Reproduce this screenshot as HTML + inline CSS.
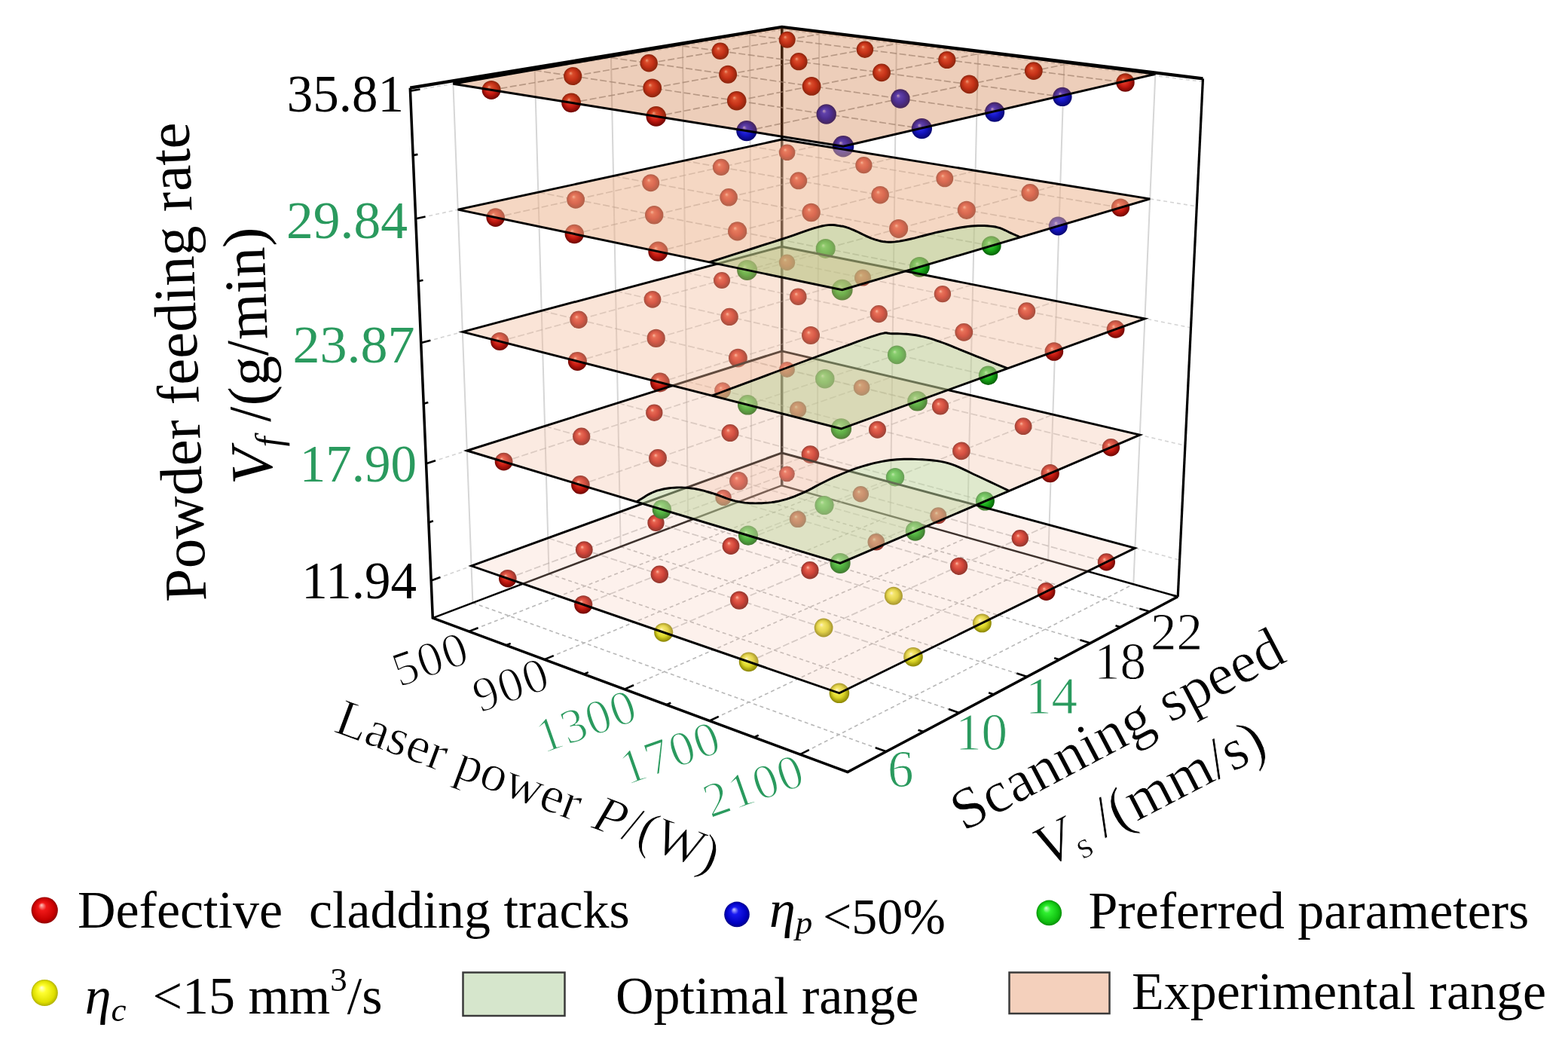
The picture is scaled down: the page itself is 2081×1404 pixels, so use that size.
<!DOCTYPE html>
<html><head><meta charset="utf-8"><title>plot</title>
<style>html,body{margin:0;padding:0;background:#fff;}svg{display:block;}</style></head>
<body><svg xmlns="http://www.w3.org/2000/svg" width="2081" height="1404" viewBox="0 0 2081 1404">
<rect width="2081" height="1404" fill="#fff"/>
<defs><radialGradient id="Lr" cx="0.5" cy="0.5" r="0.5" fx="0.38" fy="0.3"><stop offset="0" stop-color="#ffc8c0"/><stop offset="0.3" stop-color="#f01818"/><stop offset="0.8" stop-color="#c80000"/><stop offset="1" stop-color="#900000"/></radialGradient>
<radialGradient id="Lb" cx="0.5" cy="0.5" r="0.5" fx="0.38" fy="0.3"><stop offset="0" stop-color="#c8c8ff"/><stop offset="0.3" stop-color="#1818f0"/><stop offset="0.8" stop-color="#0000c0"/><stop offset="1" stop-color="#000088"/></radialGradient>
<radialGradient id="Lg" cx="0.5" cy="0.5" r="0.5" fx="0.38" fy="0.3"><stop offset="0" stop-color="#d0ffd0"/><stop offset="0.3" stop-color="#30f030"/><stop offset="0.8" stop-color="#10c010"/><stop offset="1" stop-color="#089008"/></radialGradient>
<radialGradient id="Ly" cx="0.5" cy="0.5" r="0.5" fx="0.38" fy="0.3"><stop offset="0" stop-color="#ffffe0"/><stop offset="0.3" stop-color="#ffff30"/><stop offset="0.8" stop-color="#e0e000"/><stop offset="1" stop-color="#b0b000"/></radialGradient><radialGradient id="sr" cx="0.5" cy="0.5" r="0.5" fx="0.37" fy="0.33"><stop offset="0" stop-color="#ffb8a4"/><stop offset="0.22" stop-color="#e2402c"/><stop offset="0.6" stop-color="#c41810"/><stop offset="1" stop-color="#6e0600"/></radialGradient><radialGradient id="sb" cx="0.5" cy="0.5" r="0.5" fx="0.37" fy="0.33"><stop offset="0" stop-color="#c0b8ff"/><stop offset="0.22" stop-color="#3030e8"/><stop offset="0.6" stop-color="#1414c0"/><stop offset="1" stop-color="#080670"/></radialGradient><radialGradient id="sg" cx="0.5" cy="0.5" r="0.5" fx="0.37" fy="0.33"><stop offset="0" stop-color="#c0ffb8"/><stop offset="0.22" stop-color="#44d040"/><stop offset="0.6" stop-color="#18a818"/><stop offset="1" stop-color="#066006"/></radialGradient><radialGradient id="sy" cx="0.5" cy="0.5" r="0.5" fx="0.37" fy="0.33"><stop offset="0" stop-color="#ffffe0"/><stop offset="0.22" stop-color="#f6f25a"/><stop offset="0.6" stop-color="#dcd628"/><stop offset="1" stop-color="#8a8400"/></radialGradient></defs>
<line x1="627.4" y1="799.9" x2="601.3" y2="107.3" stroke="#d6d6d6" stroke-width="2"/>
<line x1="728.6" y1="761.5" x2="709.6" y2="89.6" stroke="#d6d6d6" stroke-width="2"/>
<line x1="823.7" y1="725.5" x2="810.9" y2="73" stroke="#d6d6d6" stroke-width="2"/>
<line x1="913.1" y1="691.5" x2="905.9" y2="57.5" stroke="#d6d6d6" stroke-width="2"/>
<line x1="997.4" y1="659.6" x2="995.1" y2="42.9" stroke="#d6d6d6" stroke-width="2"/>
<line x1="1084.5" y1="657.4" x2="1087.2" y2="42" stroke="#d6d6d6" stroke-width="2"/>
<line x1="1181.6" y1="684.6" x2="1189.9" y2="54.6" stroke="#d6d6d6" stroke-width="2"/>
<line x1="1283.6" y1="713.3" x2="1298.2" y2="67.8" stroke="#d6d6d6" stroke-width="2"/>
<line x1="1391.1" y1="743.5" x2="1412.5" y2="81.8" stroke="#d6d6d6" stroke-width="2"/>
<line x1="1504.3" y1="775.2" x2="1533.4" y2="96.6" stroke="#d6d6d6" stroke-width="2"/>
<line x1="572.2" y1="770.5" x2="1037.7" y2="601" stroke="#d4d4d4" stroke-width="1.6" stroke-dasharray="5 4"/>
<line x1="1037.7" y1="601" x2="1565.6" y2="743.2" stroke="#d4d4d4" stroke-width="1.6" stroke-dasharray="5 4"/>
<line x1="565.6" y1="615.2" x2="1037.7" y2="465.9" stroke="#d4d4d4" stroke-width="1.6" stroke-dasharray="5 4"/>
<line x1="1037.7" y1="465.9" x2="1572.9" y2="591.3" stroke="#d4d4d4" stroke-width="1.6" stroke-dasharray="5 4"/>
<line x1="558.7" y1="455.1" x2="1037.7" y2="327.3" stroke="#d4d4d4" stroke-width="1.6" stroke-dasharray="5 4"/>
<line x1="1037.7" y1="327.3" x2="1580.5" y2="434.9" stroke="#d4d4d4" stroke-width="1.6" stroke-dasharray="5 4"/>
<line x1="551.7" y1="290.3" x2="1037.7" y2="185.1" stroke="#d4d4d4" stroke-width="1.6" stroke-dasharray="5 4"/>
<line x1="1037.7" y1="185.1" x2="1588.3" y2="273.9" stroke="#d4d4d4" stroke-width="1.6" stroke-dasharray="5 4"/>
<line x1="544.4" y1="120.6" x2="1037.8" y2="39.4" stroke="#d4d4d4" stroke-width="1.6" stroke-dasharray="5 4"/>
<line x1="1037.8" y1="39.4" x2="1596.3" y2="108.3" stroke="#d4d4d4" stroke-width="1.6" stroke-dasharray="5 4"/>
<line x1="622.4" y1="837.9" x2="1084.5" y2="657.4" stroke="#b8b8b8" stroke-width="1.6" stroke-dasharray="5 4"/>
<line x1="722.6" y1="875.1" x2="1181.6" y2="684.6" stroke="#b8b8b8" stroke-width="1.6" stroke-dasharray="5 4"/>
<line x1="828.9" y1="914.6" x2="1283.6" y2="713.3" stroke="#b8b8b8" stroke-width="1.6" stroke-dasharray="5 4"/>
<line x1="941.8" y1="956.5" x2="1391.1" y2="743.5" stroke="#b8b8b8" stroke-width="1.6" stroke-dasharray="5 4"/>
<line x1="1061.9" y1="1001.1" x2="1504.3" y2="775.2" stroke="#b8b8b8" stroke-width="1.6" stroke-dasharray="5 4"/>
<line x1="627.4" y1="799.9" x2="1176.1" y2="997.3" stroke="#b8b8b8" stroke-width="1.6" stroke-dasharray="5 4"/>
<line x1="728.6" y1="761.5" x2="1273" y2="945.9" stroke="#b8b8b8" stroke-width="1.6" stroke-dasharray="5 4"/>
<line x1="823.7" y1="725.5" x2="1363.2" y2="898" stroke="#b8b8b8" stroke-width="1.6" stroke-dasharray="5 4"/>
<line x1="913.1" y1="691.5" x2="1447.2" y2="853.4" stroke="#b8b8b8" stroke-width="1.6" stroke-dasharray="5 4"/>
<line x1="997.4" y1="659.6" x2="1525.8" y2="811.6" stroke="#b8b8b8" stroke-width="1.6" stroke-dasharray="5 4"/>
<line x1="1037.7" y1="644.2" x2="1037.8" y2="35.9" stroke="#000" stroke-width="3.5"/>
<polyline points="574.3,820.1 1037.7,644.2 1563.2,791.8" fill="none" stroke="#000" stroke-width="2.5"/>
<polyline points="544.3,116.6 1037.8,35.9 1596.5,104.3" fill="none" stroke="#000" stroke-width="4.2" stroke-linejoin="miter"/>
<polyline points="1596.5,104.3 1563.2,791.8" fill="none" stroke="#000" stroke-width="3.2" stroke-linejoin="miter"/>
<polyline points="544.3,116.6 574.3,820.1 1124.9,1024.5 1563.2,791.8" fill="none" stroke="#000" stroke-width="3.5" stroke-linejoin="miter"/>
<line x1="572.2" y1="770.5" x2="584.4" y2="766" stroke="#000" stroke-width="2.6"/>
<line x1="568.9" y1="693.4" x2="574.9" y2="691.3" stroke="#000" stroke-width="2.6"/>
<line x1="565.6" y1="615.2" x2="577.9" y2="611.3" stroke="#000" stroke-width="2.6"/>
<line x1="562.2" y1="535.7" x2="568.3" y2="533.9" stroke="#000" stroke-width="2.6"/>
<line x1="558.7" y1="455.1" x2="571.3" y2="451.8" stroke="#000" stroke-width="2.6"/>
<line x1="555.2" y1="373.3" x2="561.5" y2="371.8" stroke="#000" stroke-width="2.6"/>
<line x1="551.7" y1="290.3" x2="564.5" y2="287.6" stroke="#000" stroke-width="2.6"/>
<line x1="548.1" y1="206.1" x2="554.4" y2="204.9" stroke="#000" stroke-width="2.6"/>
<line x1="544.4" y1="120.6" x2="557.4" y2="118.5" stroke="#000" stroke-width="2.6"/>
<line x1="622.4" y1="837.9" x2="634.4" y2="833.2" stroke="#000" stroke-width="2.6"/>
<line x1="671.8" y1="856.3" x2="677.7" y2="853.9" stroke="#000" stroke-width="2.6"/>
<line x1="722.6" y1="875.1" x2="734.7" y2="870.1" stroke="#000" stroke-width="2.6"/>
<line x1="774.9" y1="894.6" x2="780.8" y2="892.1" stroke="#000" stroke-width="2.6"/>
<line x1="828.9" y1="914.6" x2="840.9" y2="909.3" stroke="#000" stroke-width="2.6"/>
<line x1="884.5" y1="935.3" x2="890.3" y2="932.6" stroke="#000" stroke-width="2.6"/>
<line x1="941.8" y1="956.5" x2="953.7" y2="950.9" stroke="#000" stroke-width="2.6"/>
<line x1="1000.9" y1="978.5" x2="1006.7" y2="975.6" stroke="#000" stroke-width="2.6"/>
<line x1="1061.9" y1="1001.1" x2="1073.7" y2="995.1" stroke="#000" stroke-width="2.6"/>
<line x1="1124.9" y1="1024.5" x2="1130.6" y2="1021.5" stroke="#000" stroke-width="2.6"/>
<line x1="1176.1" y1="997.3" x2="1161.9" y2="992.2" stroke="#000" stroke-width="2.6"/>
<line x1="1225.5" y1="971.1" x2="1218.5" y2="968.7" stroke="#000" stroke-width="2.6"/>
<line x1="1273" y1="945.9" x2="1259" y2="941.1" stroke="#000" stroke-width="2.6"/>
<line x1="1318.9" y1="921.5" x2="1312.1" y2="919.3" stroke="#000" stroke-width="2.6"/>
<line x1="1363.2" y1="898" x2="1349.3" y2="893.6" stroke="#000" stroke-width="2.6"/>
<line x1="1405.9" y1="875.3" x2="1399.2" y2="873.2" stroke="#000" stroke-width="2.6"/>
<line x1="1447.2" y1="853.4" x2="1433.5" y2="849.2" stroke="#000" stroke-width="2.6"/>
<line x1="1487.2" y1="832.2" x2="1480.5" y2="830.2" stroke="#000" stroke-width="2.6"/>
<line x1="1525.8" y1="811.6" x2="1512.3" y2="807.8" stroke="#000" stroke-width="2.6"/>
<line x1="1563.2" y1="791.8" x2="1556.6" y2="790" stroke="#000" stroke-width="2.6"/>
<line x1="673.8" y1="767.7" x2="1084.7" y2="613.6" stroke="rgb(150,150,150)" stroke-opacity="0.5" stroke-width="1.7" stroke-dasharray="9 3.5"/>
<line x1="774.2" y1="802.4" x2="1182.2" y2="639.9" stroke="rgb(150,150,150)" stroke-opacity="0.5" stroke-width="1.7" stroke-dasharray="9 3.5"/>
<line x1="880.7" y1="839.2" x2="1284.7" y2="667.5" stroke="rgb(150,150,150)" stroke-opacity="0.5" stroke-width="1.7" stroke-dasharray="9 3.5"/>
<line x1="993.7" y1="878.3" x2="1392.6" y2="696.6" stroke="rgb(150,150,150)" stroke-opacity="0.5" stroke-width="1.7" stroke-dasharray="9 3.5"/>
<line x1="727.3" y1="714" x2="1212" y2="871.7" stroke="rgb(150,150,150)" stroke-opacity="0.5" stroke-width="1.7" stroke-dasharray="9 3.5"/>
<line x1="822.8" y1="679.3" x2="1303.4" y2="826.9" stroke="rgb(150,150,150)" stroke-opacity="0.5" stroke-width="1.7" stroke-dasharray="9 3.5"/>
<line x1="912.6" y1="646.6" x2="1388.6" y2="785" stroke="rgb(150,150,150)" stroke-opacity="0.5" stroke-width="1.7" stroke-dasharray="9 3.5"/>
<line x1="997.2" y1="615.7" x2="1468.4" y2="745.9" stroke="rgb(150,150,150)" stroke-opacity="0.5" stroke-width="1.7" stroke-dasharray="9 3.5"/>
<line x1="668.6" y1="612.7" x2="1085.3" y2="477.1" stroke="rgb(150,150,150)" stroke-opacity="0.45" stroke-width="1.7" stroke-dasharray="9 3.5"/>
<line x1="770.4" y1="643.4" x2="1184" y2="500.2" stroke="rgb(150,150,150)" stroke-opacity="0.45" stroke-width="1.7" stroke-dasharray="9 3.5"/>
<line x1="878.4" y1="676" x2="1287.9" y2="524.5" stroke="rgb(150,150,150)" stroke-opacity="0.45" stroke-width="1.7" stroke-dasharray="9 3.5"/>
<line x1="993" y1="710.6" x2="1397.3" y2="550.2" stroke="rgb(150,150,150)" stroke-opacity="0.45" stroke-width="1.7" stroke-dasharray="9 3.5"/>
<line x1="723.1" y1="565.4" x2="1214.7" y2="704.8" stroke="rgb(150,150,150)" stroke-opacity="0.45" stroke-width="1.7" stroke-dasharray="9 3.5"/>
<line x1="819.9" y1="534.8" x2="1307.4" y2="665.1" stroke="rgb(150,150,150)" stroke-opacity="0.45" stroke-width="1.7" stroke-dasharray="9 3.5"/>
<line x1="911" y1="506" x2="1393.7" y2="628.2" stroke="rgb(150,150,150)" stroke-opacity="0.45" stroke-width="1.7" stroke-dasharray="9 3.5"/>
<line x1="996.7" y1="478.9" x2="1474.4" y2="593.7" stroke="rgb(150,150,150)" stroke-opacity="0.45" stroke-width="1.7" stroke-dasharray="9 3.5"/>
<line x1="663.2" y1="453" x2="1085.9" y2="336.8" stroke="rgb(150,150,150)" stroke-opacity="0.45" stroke-width="1.7" stroke-dasharray="9 3.5"/>
<line x1="766.4" y1="479.4" x2="1185.9" y2="356.6" stroke="rgb(150,150,150)" stroke-opacity="0.45" stroke-width="1.7" stroke-dasharray="9 3.5"/>
<line x1="875.9" y1="507.5" x2="1291.2" y2="377.5" stroke="rgb(150,150,150)" stroke-opacity="0.45" stroke-width="1.7" stroke-dasharray="9 3.5"/>
<line x1="992.3" y1="537.3" x2="1402.2" y2="399.5" stroke="rgb(150,150,150)" stroke-opacity="0.45" stroke-width="1.7" stroke-dasharray="9 3.5"/>
<line x1="718.7" y1="412.4" x2="1217.5" y2="532.3" stroke="rgb(150,150,150)" stroke-opacity="0.45" stroke-width="1.7" stroke-dasharray="9 3.5"/>
<line x1="817" y1="386.2" x2="1311.5" y2="498.2" stroke="rgb(150,150,150)" stroke-opacity="0.45" stroke-width="1.7" stroke-dasharray="9 3.5"/>
<line x1="909.3" y1="361.5" x2="1398.9" y2="466.5" stroke="rgb(150,150,150)" stroke-opacity="0.45" stroke-width="1.7" stroke-dasharray="9 3.5"/>
<line x1="996.2" y1="338.4" x2="1480.6" y2="436.9" stroke="rgb(150,150,150)" stroke-opacity="0.45" stroke-width="1.7" stroke-dasharray="9 3.5"/>
<line x1="657.7" y1="288.6" x2="1086.5" y2="193" stroke="rgb(150,150,150)" stroke-opacity="0.55" stroke-width="1.7" stroke-dasharray="9 3.5"/>
<line x1="762.3" y1="310.5" x2="1187.9" y2="209.3" stroke="rgb(150,150,150)" stroke-opacity="0.55" stroke-width="1.7" stroke-dasharray="9 3.5"/>
<line x1="873.4" y1="333.7" x2="1294.6" y2="226.6" stroke="rgb(150,150,150)" stroke-opacity="0.55" stroke-width="1.7" stroke-dasharray="9 3.5"/>
<line x1="991.6" y1="358.4" x2="1407.2" y2="244.7" stroke="rgb(150,150,150)" stroke-opacity="0.55" stroke-width="1.7" stroke-dasharray="9 3.5"/>
<line x1="714.3" y1="255.1" x2="1220.4" y2="354.3" stroke="rgb(150,150,150)" stroke-opacity="0.55" stroke-width="1.7" stroke-dasharray="9 3.5"/>
<line x1="814" y1="233.6" x2="1315.7" y2="326.2" stroke="rgb(150,150,150)" stroke-opacity="0.55" stroke-width="1.7" stroke-dasharray="9 3.5"/>
<line x1="907.7" y1="213.3" x2="1404.3" y2="300" stroke="rgb(150,150,150)" stroke-opacity="0.55" stroke-width="1.7" stroke-dasharray="9 3.5"/>
<line x1="995.7" y1="194.2" x2="1487" y2="275.5" stroke="rgb(150,150,150)" stroke-opacity="0.55" stroke-width="1.7" stroke-dasharray="9 3.5"/>
<line x1="652.1" y1="119.4" x2="1087.1" y2="45.5" stroke="rgb(150,150,150)" stroke-opacity="0.75" stroke-width="1.7" stroke-dasharray="9 3.5"/>
<line x1="758.1" y1="136.3" x2="1189.8" y2="58.2" stroke="rgb(150,150,150)" stroke-opacity="0.75" stroke-width="1.7" stroke-dasharray="9 3.5"/>
<line x1="870.8" y1="154.4" x2="1298.1" y2="71.5" stroke="rgb(150,150,150)" stroke-opacity="0.75" stroke-width="1.7" stroke-dasharray="9 3.5"/>
<line x1="990.9" y1="173.6" x2="1412.4" y2="85.6" stroke="rgb(150,150,150)" stroke-opacity="0.75" stroke-width="1.7" stroke-dasharray="9 3.5"/>
<line x1="709.7" y1="93.4" x2="1223.4" y2="170.6" stroke="rgb(150,150,150)" stroke-opacity="0.75" stroke-width="1.7" stroke-dasharray="9 3.5"/>
<line x1="811" y1="76.7" x2="1320.1" y2="148.7" stroke="rgb(150,150,150)" stroke-opacity="0.75" stroke-width="1.7" stroke-dasharray="9 3.5"/>
<line x1="905.9" y1="61.1" x2="1409.9" y2="128.4" stroke="rgb(150,150,150)" stroke-opacity="0.75" stroke-width="1.7" stroke-dasharray="9 3.5"/>
<line x1="995.1" y1="46.4" x2="1493.5" y2="109.5" stroke="rgb(150,150,150)" stroke-opacity="0.75" stroke-width="1.7" stroke-dasharray="9 3.5"/>
<circle cx="673.8" cy="767.7" r="11.8" fill="url(#sr)"/>
<circle cx="775.3" cy="729.6" r="11.4" fill="url(#sr)"/>
<circle cx="870.5" cy="693.9" r="11.1" fill="url(#sr)"/>
<circle cx="960.1" cy="660.4" r="10.7" fill="url(#sr)"/>
<circle cx="1044.4" cy="628.8" r="10.4" fill="url(#sr)"/>
<circle cx="774.2" cy="802.4" r="12.1" fill="url(#sr)"/>
<circle cx="875.3" cy="762.2" r="11.7" fill="url(#sr)"/>
<circle cx="970" cy="724.5" r="11.4" fill="url(#sr)"/>
<circle cx="1058.8" cy="689.1" r="11" fill="url(#sr)"/>
<circle cx="1142.3" cy="655.8" r="10.7" fill="url(#sr)"/>
<circle cx="880.7" cy="839.2" r="12.5" fill="url(#sy)"/>
<circle cx="981.1" cy="796.6" r="12.1" fill="url(#sr)"/>
<circle cx="1074.9" cy="756.7" r="11.7" fill="url(#sr)"/>
<circle cx="1162.8" cy="719.3" r="11.3" fill="url(#sr)"/>
<circle cx="1245.3" cy="684.3" r="11" fill="url(#sr)"/>
<circle cx="993.7" cy="878.3" r="12.9" fill="url(#sy)"/>
<circle cx="1093.1" cy="833" r="12.4" fill="url(#sy)"/>
<circle cx="1185.9" cy="790.8" r="12" fill="url(#sy)"/>
<circle cx="1272.6" cy="751.3" r="11.6" fill="url(#sr)"/>
<circle cx="1353.8" cy="714.3" r="11.2" fill="url(#sr)"/>
<circle cx="1113.9" cy="919.8" r="13.3" fill="url(#sy)"/>
<circle cx="1212" cy="871.7" r="12.8" fill="url(#sy)"/>
<circle cx="1303.4" cy="826.9" r="12.4" fill="url(#sy)"/>
<circle cx="1388.6" cy="785" r="11.9" fill="url(#sr)"/>
<circle cx="1468.4" cy="745.9" r="11.6" fill="url(#sr)"/>
<circle cx="668.6" cy="612.7" r="11.9" fill="url(#sr)"/>
<circle cx="771.7" cy="579.2" r="11.6" fill="url(#sr)"/>
<circle cx="868.3" cy="547.7" r="11.2" fill="url(#sr)"/>
<circle cx="959.1" cy="518.2" r="10.9" fill="url(#sr)"/>
<circle cx="1044.5" cy="490.4" r="10.5" fill="url(#sr)"/>
<circle cx="770.4" cy="643.4" r="12.3" fill="url(#sr)"/>
<circle cx="873" cy="607.9" r="11.9" fill="url(#sr)"/>
<circle cx="969" cy="574.6" r="11.5" fill="url(#sr)"/>
<circle cx="1059.1" cy="543.5" r="11.1" fill="url(#sr)"/>
<circle cx="1143.6" cy="514.2" r="10.8" fill="url(#sr)"/>
<circle cx="878.4" cy="676" r="12.7" fill="url(#sg)"/>
<circle cx="980.3" cy="638.3" r="12.2" fill="url(#sr)"/>
<circle cx="1075.4" cy="603.1" r="11.8" fill="url(#sr)"/>
<circle cx="1164.5" cy="570.2" r="11.5" fill="url(#sr)"/>
<circle cx="1248" cy="539.3" r="11.1" fill="url(#sr)"/>
<circle cx="993" cy="710.6" r="13.1" fill="url(#sg)"/>
<circle cx="1094" cy="670.5" r="12.6" fill="url(#sg)"/>
<circle cx="1188" cy="633.2" r="12.2" fill="url(#sg)"/>
<circle cx="1275.9" cy="598.4" r="11.8" fill="url(#sr)"/>
<circle cx="1358.1" cy="565.7" r="11.4" fill="url(#sr)"/>
<circle cx="1115.1" cy="747.4" r="13.5" fill="url(#sg)"/>
<circle cx="1214.7" cy="704.8" r="13" fill="url(#sg)"/>
<circle cx="1307.4" cy="665.1" r="12.5" fill="url(#sg)"/>
<circle cx="1393.7" cy="628.2" r="12.1" fill="url(#sr)"/>
<circle cx="1474.4" cy="593.7" r="11.7" fill="url(#sr)"/>
<circle cx="663.2" cy="453" r="12.1" fill="url(#sr)"/>
<circle cx="768" cy="424.2" r="11.7" fill="url(#sr)"/>
<circle cx="866" cy="397.3" r="11.4" fill="url(#sr)"/>
<circle cx="958" cy="372" r="11" fill="url(#sr)"/>
<circle cx="1044.5" cy="348.2" r="10.7" fill="url(#sr)"/>
<circle cx="766.4" cy="479.4" r="12.5" fill="url(#sr)"/>
<circle cx="870.7" cy="448.9" r="12.1" fill="url(#sr)"/>
<circle cx="968.1" cy="420.4" r="11.7" fill="url(#sr)"/>
<circle cx="1059.3" cy="393.7" r="11.3" fill="url(#sr)"/>
<circle cx="1145" cy="368.6" r="11" fill="url(#sr)"/>
<circle cx="875.9" cy="507.5" r="12.9" fill="url(#sr)"/>
<circle cx="979.4" cy="475.1" r="12.4" fill="url(#sr)"/>
<circle cx="1076" cy="444.9" r="12" fill="url(#sr)"/>
<circle cx="1166.3" cy="416.6" r="11.6" fill="url(#sr)"/>
<circle cx="1250.9" cy="390.1" r="11.2" fill="url(#sr)"/>
<circle cx="992.3" cy="537.3" r="13.3" fill="url(#sg)"/>
<circle cx="1094.8" cy="502.8" r="12.8" fill="url(#sg)"/>
<circle cx="1190.3" cy="470.8" r="12.4" fill="url(#sg)"/>
<circle cx="1279.3" cy="440.8" r="11.9" fill="url(#sr)"/>
<circle cx="1362.6" cy="412.9" r="11.6" fill="url(#sr)"/>
<circle cx="1116.4" cy="569" r="13.7" fill="url(#sg)"/>
<circle cx="1217.5" cy="532.3" r="13.2" fill="url(#sg)"/>
<circle cx="1311.5" cy="498.2" r="12.7" fill="url(#sg)"/>
<circle cx="1398.9" cy="466.5" r="12.3" fill="url(#sr)"/>
<circle cx="1480.6" cy="436.9" r="11.9" fill="url(#sr)"/>
<circle cx="657.7" cy="288.6" r="12.3" fill="url(#sr)"/>
<circle cx="764.1" cy="264.9" r="11.9" fill="url(#sr)"/>
<circle cx="863.7" cy="242.7" r="11.5" fill="url(#sr)"/>
<circle cx="957" cy="221.9" r="11.1" fill="url(#sr)"/>
<circle cx="1044.6" cy="202.3" r="10.8" fill="url(#sr)"/>
<circle cx="762.3" cy="310.5" r="12.7" fill="url(#sr)"/>
<circle cx="868.2" cy="285.3" r="12.2" fill="url(#sr)"/>
<circle cx="967.1" cy="261.8" r="11.8" fill="url(#sr)"/>
<circle cx="1059.7" cy="239.8" r="11.5" fill="url(#sr)"/>
<circle cx="1146.4" cy="219.2" r="11.1" fill="url(#sr)"/>
<circle cx="873.4" cy="333.7" r="13.1" fill="url(#sr)"/>
<circle cx="978.6" cy="306.9" r="12.6" fill="url(#sr)"/>
<circle cx="1076.6" cy="282" r="12.2" fill="url(#sr)"/>
<circle cx="1168.1" cy="258.7" r="11.8" fill="url(#sr)"/>
<circle cx="1253.8" cy="236.9" r="11.4" fill="url(#sr)"/>
<circle cx="991.6" cy="358.4" r="13.5" fill="url(#sg)"/>
<circle cx="1095.7" cy="329.9" r="13" fill="url(#sg)"/>
<circle cx="1192.6" cy="303.4" r="12.5" fill="url(#sr)"/>
<circle cx="1282.8" cy="278.8" r="12.1" fill="url(#sr)"/>
<circle cx="1367.1" cy="255.7" r="11.7" fill="url(#sr)"/>
<circle cx="1117.7" cy="384.7" r="13.9" fill="url(#sg)"/>
<circle cx="1220.4" cy="354.3" r="13.4" fill="url(#sg)"/>
<circle cx="1315.7" cy="326.2" r="12.9" fill="url(#sg)"/>
<circle cx="1404.3" cy="300" r="12.5" fill="url(#sb)"/>
<circle cx="1487" cy="275.5" r="12.1" fill="url(#sr)"/>
<circle cx="652.1" cy="119.4" r="12.5" fill="url(#sr)"/>
<circle cx="760.2" cy="101" r="12.1" fill="url(#sr)"/>
<circle cx="861.2" cy="83.8" r="11.7" fill="url(#sr)"/>
<circle cx="955.9" cy="67.8" r="11.3" fill="url(#sr)"/>
<circle cx="1044.7" cy="52.7" r="11" fill="url(#sr)"/>
<circle cx="758.1" cy="136.3" r="12.9" fill="url(#sr)"/>
<circle cx="865.7" cy="116.8" r="12.4" fill="url(#sr)"/>
<circle cx="966.1" cy="98.7" r="12" fill="url(#sr)"/>
<circle cx="1060" cy="81.7" r="11.6" fill="url(#sr)"/>
<circle cx="1147.9" cy="65.7" r="11.2" fill="url(#sr)"/>
<circle cx="870.8" cy="154.4" r="13.3" fill="url(#sr)"/>
<circle cx="977.7" cy="133.7" r="12.8" fill="url(#sr)"/>
<circle cx="1077.1" cy="114.4" r="12.4" fill="url(#sr)"/>
<circle cx="1170" cy="96.4" r="11.9" fill="url(#sr)"/>
<circle cx="1256.8" cy="79.5" r="11.6" fill="url(#sr)"/>
<circle cx="990.9" cy="173.6" r="13.7" fill="url(#sb)"/>
<circle cx="1096.7" cy="151.5" r="13.2" fill="url(#sb)"/>
<circle cx="1194.9" cy="131" r="12.7" fill="url(#sb)"/>
<circle cx="1286.4" cy="111.9" r="12.3" fill="url(#sr)"/>
<circle cx="1371.8" cy="94.1" r="11.9" fill="url(#sr)"/>
<circle cx="1119.1" cy="194.2" r="14.2" fill="url(#sb)"/>
<circle cx="1223.4" cy="170.6" r="13.6" fill="url(#sb)"/>
<circle cx="1320.1" cy="148.7" r="13.1" fill="url(#sb)"/>
<circle cx="1409.9" cy="128.4" r="12.7" fill="url(#sb)"/>
<circle cx="1493.5" cy="109.5" r="12.2" fill="url(#sr)"/>
<polygon points="625.6,751 1113.9,919.8 1506.3,727.3 1037.7,601" fill="rgb(246,200,180)" fill-opacity="0.25"/>
<polygon points="625.6,751 1113.9,919.8 1506.3,727.3 1037.7,601" fill="none" stroke="#000" stroke-width="2.9" stroke-linejoin="miter"/>
<polygon points="619.8,598 844.7,665.9 846.6,664.8 849,663.2 852,661.4 855.2,659.4 858.6,657.3 862.1,655.4 865.5,653.7 868.8,652.3 871.9,651.2 875.2,650.3 878.4,649.5 881.7,648.8 885,648.3 888.3,647.8 891.6,647.4 894.9,647.2 898.1,647 901.4,646.9 904.6,646.9 907.9,647.1 911.2,647.3 914.4,647.6 917.7,648 920.9,648.4 924.2,649 927.4,649.6 930.6,650.4 933.8,651.2 937.1,652.1 940.3,653 943.5,654 946.7,654.9 950,656 953.2,657.1 956.5,658.4 959.7,659.6 963,660.9 966.2,662 969.5,663.1 972.7,664 975.9,664.8 979,665.5 982.1,666.1 985.2,666.6 988.4,667.1 991.6,667.4 995.1,667.7 998.7,667.8 1002.5,667.9 1006.6,667.8 1010.8,667.7 1015.2,667.4 1019.5,667.1 1023.9,666.6 1028.2,666 1032.3,665.3 1036.3,664.4 1040.1,663.4 1043.9,662.4 1047.6,661.2 1051.4,659.8 1055.3,658.3 1059.3,656.7 1063.6,654.9 1068.1,652.9 1072.8,650.6 1077.6,648.1 1082.5,645.4 1087.5,642.8 1092.5,640.2 1097.5,637.7 1102.4,635.4 1107.2,633.2 1112.1,631.1 1117,629 1121.8,627 1126.7,625 1131.6,623.2 1136.5,621.4 1141.3,619.8 1146.2,618.4 1151.1,617 1156,615.6 1160.9,614.4 1165.8,613.3 1170.7,612.4 1175.6,611.5 1180.4,610.8 1185.3,610.2 1190.1,609.8 1195,609.5 1199.8,609.3 1204.7,609.2 1209.5,609.3 1214.4,609.4 1219.2,609.6 1224.1,609.8 1229,610.1 1233.9,610.5 1238.7,611 1243.6,611.6 1248.5,612.4 1253.4,613.4 1258.2,614.6 1263,616.2 1267.8,617.9 1272.6,619.9 1277.4,622.1 1282.2,624.4 1287,626.8 1292,629.2 1297,631.5 1302.4,634 1308.2,636.7 1314.4,639.6 1320.5,642.5 1326.3,645.2 1331.6,647.8 1336,649.9 1339.4,651.5 1512.8,577.2 1037.7,465.9" fill="rgb(244,192,165)" fill-opacity="0.33"/>
<polygon points="844.7,665.9 846.6,664.8 849,663.2 852,661.4 855.2,659.4 858.6,657.3 862.1,655.4 865.5,653.7 868.8,652.3 871.9,651.2 875.2,650.3 878.4,649.5 881.7,648.8 885,648.3 888.3,647.8 891.6,647.4 894.9,647.2 898.1,647 901.4,646.9 904.6,646.9 907.9,647.1 911.2,647.3 914.4,647.6 917.7,648 920.9,648.4 924.2,649 927.4,649.6 930.6,650.4 933.8,651.2 937.1,652.1 940.3,653 943.5,654 946.7,654.9 950,656 953.2,657.1 956.5,658.4 959.7,659.6 963,660.9 966.2,662 969.5,663.1 972.7,664 975.9,664.8 979,665.5 982.1,666.1 985.2,666.6 988.4,667.1 991.6,667.4 995.1,667.7 998.7,667.8 1002.5,667.9 1006.6,667.8 1010.8,667.7 1015.2,667.4 1019.5,667.1 1023.9,666.6 1028.2,666 1032.3,665.3 1036.3,664.4 1040.1,663.4 1043.9,662.4 1047.6,661.2 1051.4,659.8 1055.3,658.3 1059.3,656.7 1063.6,654.9 1068.1,652.9 1072.8,650.6 1077.6,648.1 1082.5,645.4 1087.5,642.8 1092.5,640.2 1097.5,637.7 1102.4,635.4 1107.2,633.2 1112.1,631.1 1117,629 1121.8,627 1126.7,625 1131.6,623.2 1136.5,621.4 1141.3,619.8 1146.2,618.4 1151.1,617 1156,615.6 1160.9,614.4 1165.8,613.3 1170.7,612.4 1175.6,611.5 1180.4,610.8 1185.3,610.2 1190.1,609.8 1195,609.5 1199.8,609.3 1204.7,609.2 1209.5,609.3 1214.4,609.4 1219.2,609.6 1224.1,609.8 1229,610.1 1233.9,610.5 1238.7,611 1243.6,611.6 1248.5,612.4 1253.4,613.4 1258.2,614.6 1263,616.2 1267.8,617.9 1272.6,619.9 1277.4,622.1 1282.2,624.4 1287,626.8 1292,629.2 1297,631.5 1302.4,634 1308.2,636.7 1314.4,639.6 1320.5,642.5 1326.3,645.2 1331.6,647.8 1336,649.9 1339.4,651.5 1115.1,747.4" fill="rgb(194,212,160)" fill-opacity="0.52"/>
<polygon points="619.8,598 1115.1,747.4 1512.8,577.2 1037.7,465.9" fill="none" stroke="#000" stroke-width="2.9" stroke-linejoin="miter"/>
<polyline points="844.7,665.9 846.6,664.8 849,663.2 852,661.4 855.2,659.4 858.6,657.3 862.1,655.4 865.5,653.7 868.8,652.3 871.9,651.2 875.2,650.3 878.4,649.5 881.7,648.8 885,648.3 888.3,647.8 891.6,647.4 894.9,647.2 898.1,647 901.4,646.9 904.6,646.9 907.9,647.1 911.2,647.3 914.4,647.6 917.7,648 920.9,648.4 924.2,649 927.4,649.6 930.6,650.4 933.8,651.2 937.1,652.1 940.3,653 943.5,654 946.7,654.9 950,656 953.2,657.1 956.5,658.4 959.7,659.6 963,660.9 966.2,662 969.5,663.1 972.7,664 975.9,664.8 979,665.5 982.1,666.1 985.2,666.6 988.4,667.1 991.6,667.4 995.1,667.7 998.7,667.8 1002.5,667.9 1006.6,667.8 1010.8,667.7 1015.2,667.4 1019.5,667.1 1023.9,666.6 1028.2,666 1032.3,665.3 1036.3,664.4 1040.1,663.4 1043.9,662.4 1047.6,661.2 1051.4,659.8 1055.3,658.3 1059.3,656.7 1063.6,654.9 1068.1,652.9 1072.8,650.6 1077.6,648.1 1082.5,645.4 1087.5,642.8 1092.5,640.2 1097.5,637.7 1102.4,635.4 1107.2,633.2 1112.1,631.1 1117,629 1121.8,627 1126.7,625 1131.6,623.2 1136.5,621.4 1141.3,619.8 1146.2,618.4 1151.1,617 1156,615.6 1160.9,614.4 1165.8,613.3 1170.7,612.4 1175.6,611.5 1180.4,610.8 1185.3,610.2 1190.1,609.8 1195,609.5 1199.8,609.3 1204.7,609.2 1209.5,609.3 1214.4,609.4 1219.2,609.6 1224.1,609.8 1229,610.1 1233.9,610.5 1238.7,611 1243.6,611.6 1248.5,612.4 1253.4,613.4 1258.2,614.6 1263,616.2 1267.8,617.9 1272.6,619.9 1277.4,622.1 1282.2,624.4 1287,626.8 1292,629.2 1297,631.5 1302.4,634 1308.2,636.7 1314.4,639.6 1320.5,642.5 1326.3,645.2 1331.6,647.8 1336,649.9 1339.4,651.5" fill="none" stroke="#000" stroke-width="2.9"/>
<polygon points="613.9,440.4 944.9,525.1 956,521 970.9,515.4 988.4,508.9 1007.4,501.8 1026.9,494.5 1045.8,487.5 1063.1,481 1078,475.5 1091.2,470.7 1103.9,465.9 1115.9,461.5 1127.3,457.3 1137.7,453.4 1147.2,450 1155.5,447.2 1162.6,444.9 1168.1,443.2 1171.9,442.3 1174.5,441.8 1176.3,441.8 1177.7,442 1179.1,442.3 1181,442.5 1183.7,442.7 1187.2,442.7 1190.9,442.7 1194.9,442.9 1199,443.1 1203.1,443.3 1207.3,443.7 1211.5,444.2 1215.5,444.8 1219.4,445.5 1223.2,446.3 1226.9,447.1 1230.7,448.1 1234.5,449.2 1238.5,450.4 1242.7,451.8 1247.1,453.3 1251.8,455 1256.8,456.9 1261.9,458.9 1267.2,461.1 1272.6,463.3 1278.2,465.6 1283.8,467.9 1289.4,470.2 1295.4,472.6 1302,475.1 1308.9,477.8 1315.8,480.5 1322.4,483.1 1328.4,485.4 1333.5,487.4 1337.2,488.9 1519.4,422.8 1037.7,327.3" fill="rgb(242,187,155)" fill-opacity="0.4"/>
<polygon points="944.9,525.1 956,521 970.9,515.4 988.4,508.9 1007.4,501.8 1026.9,494.5 1045.8,487.5 1063.1,481 1078,475.5 1091.2,470.7 1103.9,465.9 1115.9,461.5 1127.3,457.3 1137.7,453.4 1147.2,450 1155.5,447.2 1162.6,444.9 1168.1,443.2 1171.9,442.3 1174.5,441.8 1176.3,441.8 1177.7,442 1179.1,442.3 1181,442.5 1183.7,442.7 1187.2,442.7 1190.9,442.7 1194.9,442.9 1199,443.1 1203.1,443.3 1207.3,443.7 1211.5,444.2 1215.5,444.8 1219.4,445.5 1223.2,446.3 1226.9,447.1 1230.7,448.1 1234.5,449.2 1238.5,450.4 1242.7,451.8 1247.1,453.3 1251.8,455 1256.8,456.9 1261.9,458.9 1267.2,461.1 1272.6,463.3 1278.2,465.6 1283.8,467.9 1289.4,470.2 1295.4,472.6 1302,475.1 1308.9,477.8 1315.8,480.5 1322.4,483.1 1328.4,485.4 1333.5,487.4 1337.2,488.9 1116.4,569" fill="rgb(190,204,148)" fill-opacity="0.56"/>
<polygon points="613.9,440.4 1116.4,569 1519.4,422.8 1037.7,327.3" fill="none" stroke="#000" stroke-width="2.9" stroke-linejoin="miter"/>
<polyline points="944.9,525.1 956,521 970.9,515.4 988.4,508.9 1007.4,501.8 1026.9,494.5 1045.8,487.5 1063.1,481 1078,475.5 1091.2,470.7 1103.9,465.9 1115.9,461.5 1127.3,457.3 1137.7,453.4 1147.2,450 1155.5,447.2 1162.6,444.9 1168.1,443.2 1171.9,442.3 1174.5,441.8 1176.3,441.8 1177.7,442 1179.1,442.3 1181,442.5 1183.7,442.7 1187.2,442.7 1190.9,442.7 1194.9,442.9 1199,443.1 1203.1,443.3 1207.3,443.7 1211.5,444.2 1215.5,444.8 1219.4,445.5 1223.2,446.3 1226.9,447.1 1230.7,448.1 1234.5,449.2 1238.5,450.4 1242.7,451.8 1247.1,453.3 1251.8,455 1256.8,456.9 1261.9,458.9 1267.2,461.1 1272.6,463.3 1278.2,465.6 1283.8,467.9 1289.4,470.2 1295.4,472.6 1302,475.1 1308.9,477.8 1315.8,480.5 1322.4,483.1 1328.4,485.4 1333.5,487.4 1337.2,488.9" fill="none" stroke="#000" stroke-width="2.9"/>
<polygon points="607.7,278.2 941.6,347.9 949.4,345.5 959.9,342.1 972.4,338.2 985.9,333.9 999.7,329.5 1013.1,325.2 1025.3,321.3 1035.6,318 1044.5,315.1 1052.7,312.3 1060.3,309.6 1067.4,307.1 1073.9,304.9 1080,302.9 1085.5,301.3 1090.7,300 1095.3,299.1 1099.2,298.6 1102.7,298.4 1105.7,298.5 1108.4,298.8 1111,299.2 1113.5,299.6 1116.1,300 1118.6,300.3 1120.7,300.8 1122.7,301.4 1124.6,302 1126.5,302.7 1128.5,303.5 1130.6,304.4 1133.1,305.4 1135.8,306.6 1138.9,308 1142.1,309.6 1145.4,311.2 1148.8,312.9 1152.1,314.4 1155.4,315.8 1158.4,317 1161.2,317.9 1163.9,318.7 1166.4,319.4 1168.9,320 1171.4,320.5 1174,320.8 1176.6,321.1 1179.4,321.2 1182.3,321.2 1185,321.1 1187.8,320.9 1190.7,320.5 1193.7,320.1 1197,319.5 1200.6,318.8 1204.6,318 1209.1,317 1214.1,315.8 1219.4,314.4 1224.9,313 1230.5,311.5 1236.2,310.1 1241.7,308.7 1247.1,307.5 1252.5,306.4 1257.9,305.2 1263.4,304.1 1268.9,303 1274.3,302 1279.5,301.2 1284.5,300.5 1289.3,300 1293.8,299.7 1298.1,299.5 1302.3,299.4 1306.4,299.5 1310.3,299.7 1314,300.1 1317.6,300.5 1321,301 1324.2,301.8 1327.3,302.7 1330.2,303.8 1332.9,305.1 1335.5,306.3 1337.9,307.5 1340.2,308.7 1342.4,309.6 1344.4,310.5 1346.3,311.3 1348,312.1 1349.6,312.8 1351,313.4 1352.2,314 1353.3,314.4 1354.1,314.8 1526.2,263.9 1037.7,185.1" fill="rgb(236,178,140)" fill-opacity="0.52"/>
<polygon points="941.6,347.9 949.4,345.5 959.9,342.1 972.4,338.2 985.9,333.9 999.7,329.5 1013.1,325.2 1025.3,321.3 1035.6,318 1044.5,315.1 1052.7,312.3 1060.3,309.6 1067.4,307.1 1073.9,304.9 1080,302.9 1085.5,301.3 1090.7,300 1095.3,299.1 1099.2,298.6 1102.7,298.4 1105.7,298.5 1108.4,298.8 1111,299.2 1113.5,299.6 1116.1,300 1118.6,300.3 1120.7,300.8 1122.7,301.4 1124.6,302 1126.5,302.7 1128.5,303.5 1130.6,304.4 1133.1,305.4 1135.8,306.6 1138.9,308 1142.1,309.6 1145.4,311.2 1148.8,312.9 1152.1,314.4 1155.4,315.8 1158.4,317 1161.2,317.9 1163.9,318.7 1166.4,319.4 1168.9,320 1171.4,320.5 1174,320.8 1176.6,321.1 1179.4,321.2 1182.3,321.2 1185,321.1 1187.8,320.9 1190.7,320.5 1193.7,320.1 1197,319.5 1200.6,318.8 1204.6,318 1209.1,317 1214.1,315.8 1219.4,314.4 1224.9,313 1230.5,311.5 1236.2,310.1 1241.7,308.7 1247.1,307.5 1252.5,306.4 1257.9,305.2 1263.4,304.1 1268.9,303 1274.3,302 1279.5,301.2 1284.5,300.5 1289.3,300 1293.8,299.7 1298.1,299.5 1302.3,299.4 1306.4,299.5 1310.3,299.7 1314,300.1 1317.6,300.5 1321,301 1324.2,301.8 1327.3,302.7 1330.2,303.8 1332.9,305.1 1335.5,306.3 1337.9,307.5 1340.2,308.7 1342.4,309.6 1344.4,310.5 1346.3,311.3 1348,312.1 1349.6,312.8 1351,313.4 1352.2,314 1353.3,314.4 1354.1,314.8 1117.7,384.7" fill="rgb(186,196,132)" fill-opacity="0.62"/>
<polygon points="607.7,278.2 1117.7,384.7 1526.2,263.9 1037.7,185.1" fill="none" stroke="#000" stroke-width="2.9" stroke-linejoin="miter"/>
<polyline points="941.6,347.9 949.4,345.5 959.9,342.1 972.4,338.2 985.9,333.9 999.7,329.5 1013.1,325.2 1025.3,321.3 1035.6,318 1044.5,315.1 1052.7,312.3 1060.3,309.6 1067.4,307.1 1073.9,304.9 1080,302.9 1085.5,301.3 1090.7,300 1095.3,299.1 1099.2,298.6 1102.7,298.4 1105.7,298.5 1108.4,298.8 1111,299.2 1113.5,299.6 1116.1,300 1118.6,300.3 1120.7,300.8 1122.7,301.4 1124.6,302 1126.5,302.7 1128.5,303.5 1130.6,304.4 1133.1,305.4 1135.8,306.6 1138.9,308 1142.1,309.6 1145.4,311.2 1148.8,312.9 1152.1,314.4 1155.4,315.8 1158.4,317 1161.2,317.9 1163.9,318.7 1166.4,319.4 1168.9,320 1171.4,320.5 1174,320.8 1176.6,321.1 1179.4,321.2 1182.3,321.2 1185,321.1 1187.8,320.9 1190.7,320.5 1193.7,320.1 1197,319.5 1200.6,318.8 1204.6,318 1209.1,317 1214.1,315.8 1219.4,314.4 1224.9,313 1230.5,311.5 1236.2,310.1 1241.7,308.7 1247.1,307.5 1252.5,306.4 1257.9,305.2 1263.4,304.1 1268.9,303 1274.3,302 1279.5,301.2 1284.5,300.5 1289.3,300 1293.8,299.7 1298.1,299.5 1302.3,299.4 1306.4,299.5 1310.3,299.7 1314,300.1 1317.6,300.5 1321,301 1324.2,301.8 1327.3,302.7 1330.2,303.8 1332.9,305.1 1335.5,306.3 1337.9,307.5 1340.2,308.7 1342.4,309.6 1344.4,310.5 1346.3,311.3 1348,312.1 1349.6,312.8 1351,313.4 1352.2,314 1353.3,314.4 1354.1,314.8" fill="none" stroke="#000" stroke-width="2.9"/>
<polygon points="601.4,111.2 1119.1,194.2 1533.3,98.3 1037.8,35.9" fill="rgb(199,102,39)" fill-opacity="0.32"/>
<polygon points="601.4,111.2 1119.1,194.2 1533.3,98.3 1037.8,35.9" fill="none" stroke="#000" stroke-width="2.9" stroke-linejoin="miter"/>
<polygon points="601.3,107.3 1037.8,35.9 601.4,111.2" fill="#000"/>
<polygon points="1037.8,35.9 1533.4,96.6 1533.3,98.3" fill="#000"/>
<g font-family="Liberation Serif, Times New Roman, serif">
<text x="536" y="148.4" font-size="69" fill="#000" text-anchor="end" >35.81</text>
<text x="541" y="315.9" font-size="69" fill="#2a9a5e" text-anchor="end" textLength="161" lengthAdjust="spacingAndGlyphs">29.84</text>
<text x="550.5" y="481.3" font-size="69" fill="#2a9a5e" text-anchor="end" textLength="162" lengthAdjust="spacingAndGlyphs">23.87</text>
<text x="553" y="639.1" font-size="69" fill="#2a9a5e" text-anchor="end" >17.90</text>
<text x="553" y="794" font-size="69" fill="#000" text-anchor="end" >11.94</text>
<text x="273.5" y="797.3" font-size="79" fill="#000" text-anchor="start" transform="rotate(-92.1 273.5 797.3)" >Powder feeding rate</text>
<text x="361.5" y="641.5" font-size="79" transform="rotate(-92 361.5 641.5)"><tspan font-style="italic">V</tspan><tspan font-style="italic" font-size="50" dy="14">f</tspan><tspan dy="-14" xml:space="preserve"> /(g/min)</tspan></text>
<text x="530.0" y="912" font-size="65" fill="#000" text-anchor="start" transform="rotate(-19.4 530.0 912)" stroke="#fff" stroke-width="1.4" letter-spacing="1.8">500</text>
<text x="637.0" y="946" font-size="65" fill="#000" text-anchor="start" transform="rotate(-19.4 637.0 946)" stroke="#fff" stroke-width="1.4" letter-spacing="1.8">900</text>
<text x="721.0" y="1000" font-size="65" fill="#2a9a5e" text-anchor="start" transform="rotate(-19.4 721.0 1000)" stroke="#fff" stroke-width="1.4" letter-spacing="1.8">1300</text>
<text x="832.0" y="1042" font-size="65" fill="#2a9a5e" text-anchor="start" transform="rotate(-19.4 832.0 1042)" stroke="#fff" stroke-width="1.4" letter-spacing="1.8">1700</text>
<text x="943.0" y="1085.7" font-size="65" fill="#2a9a5e" text-anchor="start" transform="rotate(-19.4 943.0 1085.7)" stroke="#fff" stroke-width="1.4" letter-spacing="1.8">2100</text>
<text x="441" y="970.5" font-size="69" transform="rotate(20.4 441 970.5)" stroke="#fff" stroke-width="1.0" xml:space="preserve">Laser power <tspan font-style="italic" dx="5">P</tspan><tspan dx="0">/</tspan><tspan dx="1">(</tspan><tspan dx="1">W</tspan><tspan dx="-2">)</tspan></text>
<text x="1178" y="1043.8" font-size="69" fill="#2a9a5e" text-anchor="start" stroke="#fff" stroke-width="0.9">6</text>
<text x="1268" y="994.8" font-size="69" fill="#2a9a5e" text-anchor="start" stroke="#fff" stroke-width="0.9">10</text>
<text x="1361" y="947.2" font-size="69" fill="#2a9a5e" text-anchor="start" stroke="#fff" stroke-width="0.9">14</text>
<text x="1452" y="901.1" font-size="69" fill="#000" text-anchor="start" stroke="#fff" stroke-width="0.9">18</text>
<text x="1527" y="862.2" font-size="69" fill="#000" text-anchor="start" stroke="#fff" stroke-width="0.9">22</text>
<text x="1279" y="1104" font-size="78" fill="#000" text-anchor="start" transform="rotate(-27.8 1279 1104)" stroke="#fff" stroke-width="0.8">Scanning speed</text>
<text x="1389" y="1152" font-size="78" transform="rotate(-27.3 1389 1152)" stroke="#fff" stroke-width="0.8" xml:space="preserve"><tspan font-style="italic">V</tspan><tspan font-size="50" dy="12">s</tspan><tspan dy="-12"> /(mm/s)</tspan></text>
<text x="103" y="1231" font-size="70" xml:space="preserve">Defective  cladding tracks</text>
<text x="1021" y="1229.5" font-size="70" xml:space="preserve"><tspan font-style="italic">η</tspan><tspan font-style="italic" font-size="45" dy="9">p</tspan></text>
<text x="1092" y="1238.5" font-size="68">&lt;50%</text>
<text x="1444.4" y="1232" font-size="70">Preferred parameters</text>
<text x="112.7" y="1344.7" font-size="70" xml:space="preserve"><tspan font-style="italic">η</tspan><tspan font-style="italic" font-size="45" dy="10">c</tspan><tspan dy="-10">  &lt;15 mm</tspan><tspan font-size="45" dy="-30">3</tspan><tspan dy="30">/s</tspan></text>
<text x="817" y="1345" font-size="70">Optimal range</text>
<text x="1502" y="1339" font-size="70">Experimental range</text>
</g>
<circle cx="59.2" cy="1208" r="17.6" fill="url(#Lr)"/>
<circle cx="978" cy="1213.4" r="16.8" fill="url(#Lb)"/>
<circle cx="1392.3" cy="1211.4" r="16.8" fill="url(#Lg)"/>
<circle cx="59.2" cy="1317.5" r="17.6" fill="url(#Ly)"/>
<rect x="614.5" y="1290.5" width="135" height="57.5" fill="#d6e6cc" stroke="#3a3a3a" stroke-width="2.5"/>
<rect x="1339.5" y="1290.5" width="133" height="54.5" fill="#f4d0bc" stroke="#3a3a3a" stroke-width="2.5"/>
</svg></body></html>
